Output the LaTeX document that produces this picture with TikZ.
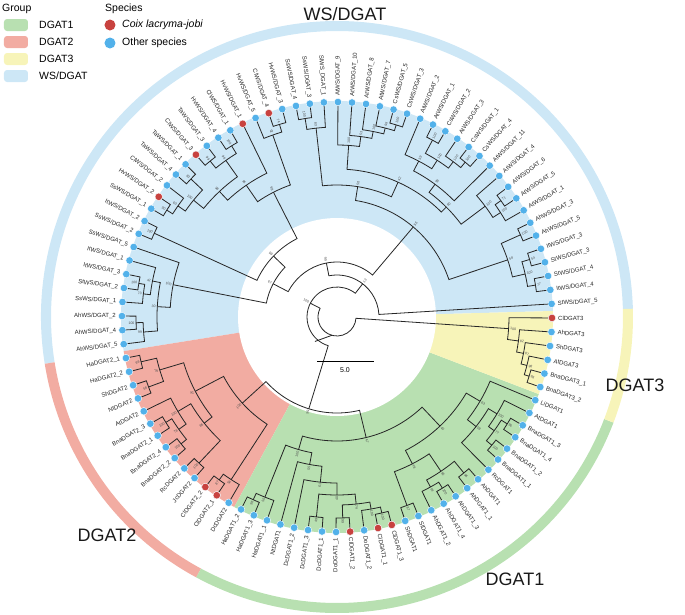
\documentclass[tikz,border=0pt]{standalone}
\usepackage{fontspec}
\setmainfont{Liberation Sans}
\begin{document}
\definecolor{cws}{HTML}{CDE7F6}
\definecolor{cd2}{HTML}{F2ACA2}
\definecolor{cd3}{HTML}{F7F4B9}
\definecolor{cd1}{HTML}{B8E0B1}
\definecolor{dred}{HTML}{C8423F}
\definecolor{dblue}{HTML}{52B1EA}
\newcommand\Rtxt[4]{% angle, radius, style, text
  \ifdim #1pt>90pt \ifdim #1pt<270pt
    \node[#3,anchor=east,rotate=#1-180] at (#1:#2pt) {#4};
  \else
    \node[#3,anchor=west,rotate=#1] at (#1:#2pt) {#4};
  \fi\else
    \node[#3,anchor=west,rotate=#1] at (#1:#2pt) {#4};
  \fi}
\newcommand\Lf[2]{% index, label
  \pgfmathsetmacro\tmpa{3.5+(#1-1)*3.75}
  \expandafter\xdef\csname angL#1\endcsname{\tmpa}
  \coordinate (L#1) at (\tmpa:215pt);
  \Rtxt{\tmpa}{220.5}{lab}{#2}}
\newcommand\Cl[5]{% name, radius, child1, child2, bootstrap
  \edef\ca{\csname ang#3\endcsname}\edef\cb{\csname ang#4\endcsname}
  \pgfmathsetmacro\cm{(\ca+\cb)/2}
  \pgfmathsetmacro\rad{min(#2,201)}
  \expandafter\xdef\csname ang#1\endcsname{\cm}
  \coordinate (#1) at (\cm:\rad pt);
  \draw[br] (#3) -- (\ca:\rad pt) arc[start angle=\ca, end angle=\cb, radius=\rad pt] -- (#4);
  \pgfmathsetmacro\rr{\rad+1.2}
  \Rtxt{\cm}{\rr}{bs}{#5}}
\begin{tikzpicture}[x=1pt,y=1pt,
  lab/.style={font=\fontsize{6}{6.5}\selectfont,inner sep=0.5pt,text=black!85},
  bs/.style={font=\fontsize{3.5}{4}\selectfont,inner sep=0.3pt,text=black!70},
  br/.style={line width=0.8pt,black!85},
  dot/.style={circle,minimum size=7.5pt,inner sep=0pt,draw=white,line width=0.4pt},
  leg/.style={font=\fontsize{10.5}{12}\selectfont,anchor=west,inner sep=0pt},
  grp/.style={font=\fontsize{18}{20}\selectfont,text=black!90}]
\useasboundingbox (-337,-297) rectangle (348,317);
% sectors
\fill[cws] (0,0) -- (1.6:216) arc[start angle=1.6,end angle=189.1,radius=216] -- cycle;
\fill[cd2] (0,0) -- (189.1:216) arc[start angle=189.1,end angle=241.6,radius=216] -- cycle;
\fill[cd1] (0,0) -- (241.6:216) arc[start angle=241.6,end angle=339.1,radius=216] -- cycle;
\fill[cd3] (0,0) -- (339.1:216) arc[start angle=339.1,end angle=361.6,radius=216] -- cycle;
\fill[white] (0,0) circle[radius=99];
% rings
\fill[cws] (1.6:286) arc[start angle=1.6,end angle=189.1,radius=286] -- (189.1:296) arc[start angle=189.1,end angle=1.6,radius=296] -- cycle;
\fill[cd2] (189.1:286) arc[start angle=189.1,end angle=241.6,radius=286] -- (241.6:296) arc[start angle=241.6,end angle=189.1,radius=296] -- cycle;
\fill[cd1] (241.6:286) arc[start angle=241.6,end angle=339.1,radius=286] -- (339.1:296) arc[start angle=339.1,end angle=241.6,radius=296] -- cycle;
\fill[cd3] (339.1:286) arc[start angle=339.1,end angle=361.6,radius=286] -- (361.6:296) arc[start angle=361.6,end angle=339.1,radius=296] -- cycle;
% leaves
\Lf{1}{StWS/DGAT\_5}\Lf{2}{ItWS/DGAT\_4}\Lf{3}{StWS/DGAT\_4}\Lf{4}{StWS/DGAT\_3}
\Lf{5}{ItWS/DGAT\_3}\Lf{6}{AhWS/DGAT\_5}\Lf{7}{AhWS/DGAT\_3}\Lf{8}{AtWS/DGAT\_1}
\Lf{9}{AtWS/DGAT\_5}\Lf{10}{AtWS/DGAT\_6}\Lf{11}{AtWS/DGAT\_4}\Lf{12}{AtWS/DGAT\_11}
\Lf{13}{CsWS/DGAT\_4}\Lf{14}{CsWS/DGAT\_1}\Lf{15}{AtWS/DGAT\_3}\Lf{16}{CsWS/DGAT\_2}
\Lf{17}{AtWS/DGAT\_1}\Lf{18}{AtWS/DGAT\_2}\Lf{19}{CsWS/DGAT\_3}\Lf{20}{CsWS/DGAT\_5}
\Lf{21}{AtWS/DGAT\_7}\Lf{22}{AtWS/DGAT\_8}\Lf{23}{AtWS/DGAT\_10}\Lf{24}{AtWS/DGAT\_9}
\Lf{25}{SlWS\_DGAT\_1}\Lf{26}{SsWS/DGAT\_3}\Lf{27}{SsWS/DGAT\_4}\Lf{28}{HvWS/DGAT\_3}
\Lf{29}{ClWS/DGAT\_4}\Lf{30}{HvWS/DGAT\_5}\Lf{31}{HvWS/DGAT\_1}\Lf{32}{ClWS/DGAT\_1}
\Lf{33}{HvWS/DGAT\_4}\Lf{34}{TaWS/DGAT\_3}\Lf{35}{ClWS/DGAT\_3}\Lf{36}{TaWS/DGAT\_1}
\Lf{37}{TaWS/DGAT\_4}\Lf{38}{ClWS/DGAT\_2}\Lf{39}{HvWS/DGAT\_2}\Lf{40}{SsWS/DGAT\_1}
\Lf{41}{ItWS/DGAT\_2}\Lf{42}{SsWS/DGAT\_2}\Lf{43}{SsWS/DGAT\_5}\Lf{44}{ItWS/DGAT\_1}
\Lf{45}{ItWS/DGAT\_3}\Lf{46}{StWS/DGAT\_2}\Lf{47}{SsWS/DGAT\_1}\Lf{48}{AhWS/DGAT\_2}
\Lf{49}{AhWS/DGAT\_4}\Lf{50}{AhWS/DGAT\_5}
\Lf{51}{HaDGAT2\_1}\Lf{52}{HaDGAT2\_2}\Lf{53}{ShDGAT2}\Lf{54}{NtDGAT2}\Lf{55}{AtDGAT2}
\Lf{56}{BnaDGAT2\_3}\Lf{57}{BnaDGAT2\_1}\Lf{58}{BnaDGAT2\_4}\Lf{59}{BnaDGAT2\_2}
\Lf{60}{RcDGAT2}\Lf{61}{JcDGAT2}\Lf{62}{ClDGAT2\_2}\Lf{63}{ClDGAT2\_1}\Lf{64}{DcDGAT2}
\Lf{65}{HaDGAT1\_2}\Lf{66}{HaDGAT1\_3}\Lf{67}{HaDGAT1\_1}\Lf{68}{NtDGAT1}
\Lf{69}{DcDGAT1\_2}\Lf{70}{DcDGAT1\_3}\Lf{71}{DcDGAT1\_1}\Lf{72}{DoDGAT1\_1}
\Lf{73}{ClDGAT1\_2}\Lf{74}{DoDGAT1\_2}\Lf{75}{ClDGAT1\_1}\Lf{76}{ClDGAT1\_3}
\Lf{77}{ShDGAT1}\Lf{78}{SlDGAT1}\Lf{79}{AhDGAT1\_2}\Lf{80}{AhDGAT1\_4}
\Lf{81}{AhDGAT1\_3}\Lf{82}{AhDGAT1\_1}\Lf{83}{AhDGAT1}\Lf{84}{RcDGAT1}
\Lf{85}{BnaDGAT1\_1}\Lf{86}{BnaDGAT1\_2}\Lf{87}{BnaDGAT1\_4}\Lf{88}{BnaDGAT1\_3}
\Lf{89}{AtDGAT1}\Lf{90}{LiDGAT1}
\Lf{91}{BnaDGAT3\_2}\Lf{92}{BnaDGAT3\_1}\Lf{93}{AtDGAT3}\Lf{94}{ShDGAT3}
\Lf{95}{AhDGAT3}\Lf{96}{ClDGAT3}
% WS/DGAT clades
\Cl{a1}{203}{L4}{L5}{54}\Cl{a2}{205}{L2}{L3}{77}\Cl{a3}{193}{a2}{a1}{100}
\Cl{a4}{203}{L6}{L7}{100}\Cl{a5}{180}{a3}{a4}{58}
\Cl{b1}{205}{L9}{L10}{71}\Cl{b2}{194}{L8}{b1}{100}\Cl{b3}{185}{b2}{L11}{100}
\Cl{c1}{205}{L13}{L14}{100}\Cl{c2}{194}{c1}{L15}{100}\Cl{c3}{205}{L16}{L17}{100}
\Cl{c4}{186}{c2}{c3}{100}\Cl{c5}{176}{c4}{L18}{59}\Cl{c6}{165}{L12}{c5}{99}
\Cl{d1}{155}{b3}{c6}{80}
\Cl{e1}{205}{L19}{L20}{100}\Cl{e2}{195}{e1}{L21}{98}\Cl{e3}{189}{e2}{L22}{100}
\Cl{e4}{182}{e3}{L23}{53}\Cl{e5}{172}{e4}{L24}{100}\Cl{e6}{148}{d1}{e5}{42}
\Cl{f1}{205}{L26}{L27}{100}\Cl{f2}{190}{L25}{f1}{83}
\Cl{g1}{132}{e6}{f2}{50}\Cl{g2}{118}{a5}{g1}{56}
\Cl{h1}{207}{L28}{L29}{74}\Cl{h2}{193}{h1}{L30}{92}
\Cl{h3}{205}{L32}{L33}{100}\Cl{h4}{205}{L34}{L35}{99}\Cl{h5}{192}{h3}{h4}{98}
\Cl{h6}{205}{L36}{L37}{83}\Cl{h7a}{205}{L39}{L40}{90}\Cl{h7}{194}{L38}{h7a}{60}
\Cl{h8}{185}{h6}{h7}{100}\Cl{h9}{172}{h5}{h8}{98}\Cl{h10}{160}{L31}{h9}{96}
\Cl{h11}{140}{h2}{h10}{98}
\Cl{i1}{205}{L41}{L42}{100}
\Cl{j1}{205}{L45}{L46}{100}\Cl{j2}{195}{j1}{L47}{73}\Cl{j3}{188}{L44}{j2}{42}
\Cl{j4}{205}{L48}{L49}{100}\Cl{j5}{194}{j4}{L50}{99}\Cl{j6}{180}{j3}{j5}{30}
\Cl{j7}{167}{L43}{j6}{100}
\Cl{k1}{88}{h11}{i1}{99}\Cl{k2}{72}{k1}{j7}{67}
\Cl{m1}{55}{g2}{k2}{99}\Cl{m2}{42}{L1}{m1}{13}
% DGAT3
\Cl{n1}{207}{L91}{L92}{98}\Cl{n2}{196}{n1}{L93}{98}\Cl{n3}{190}{n2}{L94}{87}
\Cl{n4}{183}{n3}{L95}{82}\Cl{n5}{172}{n4}{L96}{100}
% DGAT2
\Cl{p1}{205}{L51}{L52}{99}\Cl{p2}{205}{L53}{L54}{56}\Cl{p3}{185}{p1}{p2}{76}
\Cl{p4}{205}{L56}{L57}{100}\Cl{p5}{205}{L58}{L59}{100}\Cl{p6}{194}{p4}{p5}{78}
\Cl{p7}{185}{L55}{p6}{100}\Cl{p8}{205}{L60}{L61}{100}\Cl{p9}{170}{p7}{p8}{86}
\Cl{p10}{160}{p3}{p9}{42}\Cl{p11}{207}{L62}{L63}{87}\Cl{p12}{194}{p11}{L64}{58}
\Cl{p13}{128}{p10}{p12}{100}
% DGAT1
\Cl{q1}{205}{L65}{L66}{96}\Cl{q2}{194}{q1}{L67}{56}\Cl{q3}{205}{L70}{L71}{49}
\Cl{q4}{205}{L72}{L73}{99}\Cl{q5}{207}{L75}{L76}{100}\Cl{q6}{195}{L74}{q5}{100}
\Cl{q7}{188}{q4}{q6}{74}\Cl{q8}{178}{q3}{q7}{40}\Cl{q9}{166}{L69}{q8}{61}
\Cl{q10}{150}{L68}{q9}{55}\Cl{q11}{138}{q2}{q10}{100}
\Cl{s1}{205}{L77}{L78}{87}\Cl{s2}{205}{L80}{L81}{100}\Cl{s3}{194}{L79}{s2}{64}
\Cl{s4}{203}{L82}{L83}{96}\Cl{s5}{186}{s3}{s4}{56}\Cl{s6}{165}{s1}{s5}{49}
\Cl{t1}{205}{L85}{L86}{100}\Cl{t2}{205}{L87}{L88}{96}\Cl{t3}{194}{t1}{t2}{77}
\Cl{t4}{187}{t3}{L89}{100}\Cl{t5}{177}{L84}{t4}{59}\Cl{t6}{166}{t5}{L90}{63}
\Cl{s7}{150}{s6}{t6}{45}\Cl{q12}{124}{q11}{s7}{47}
% backbone
\Cl{u1}{96}{p13}{q12}{99}\Cl{u2}{30}{m2}{u1}{100}
\Cl{u3}{19}{u2}{n5}{}
\draw[br] (u3) -- ++(200:18);
% dots
\foreach \i in {1,...,96}{\node[dot,fill=dblue] (D\i) at (L\i) {};}
\foreach \i in {29,31,35,39,62,63,73,75,76,96}{\node[dot,fill=dred] (R\i) at (L\i) {};}
% scale bar
\coordinate (sb1) at (-20,-44); \coordinate (sb2) at (37,-44);
\draw[line width=0.9pt] (sb1) -- (sb2);
\node[font=\fontsize{7}{8}\selectfont] (sbl) at (8,-53) {5.0};
% group labels
\node[grp] (gws) at (8,303) {WS/DGAT};
\node[grp] (gd3) at (298,-68) {DGAT3};
\node[grp] (gd2) at (-230,-218) {DGAT2};
\node[grp] (gd1) at (178,-262) {DGAT1};
% legend
\node[leg] (lg) at (-335,308) {Group};
\foreach \c/\t/\y in {cd1/DGAT1/292,cd2/DGAT2/275,cd3/DGAT3/258,cws/WS\slash DGAT/241}{
  \fill[\c,rounded corners=3pt] (-333,\y-6) rectangle (-309,\y+6);
  \node[leg] at (-298,\y) {\t};}
\node[leg] (ls) at (-232,308) {Species};
\node[dot,fill=dred,draw=none,minimum size=11pt] (lr) at (-227,292) {};
\node[leg] (lrt) at (-215,292) {\itshape Coix lacryma-jobi};
\node[dot,fill=dblue,draw=none,minimum size=11pt] (lb) at (-227,274) {};
\node[leg] (lbt) at (-215,274) {Other species};
\end{tikzpicture}
\end{document}
